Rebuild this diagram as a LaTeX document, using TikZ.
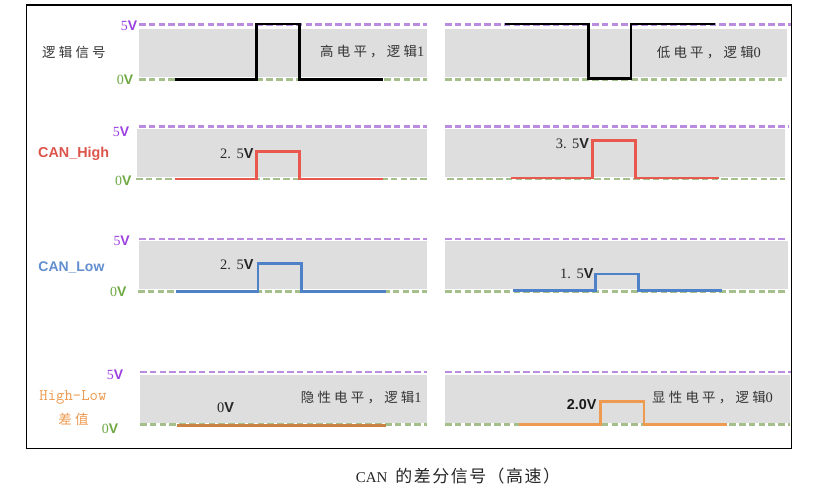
\documentclass[tikz,border=0pt]{standalone}
\usepackage{fontspec}
\setmainfont{Liberation Serif}
\setsansfont{Liberation Sans}
\setmonofont{Latin Modern Mono}
\newfontfamily\cjk[LetterSpace=24]{Noto Sans CJK SC}
\newfontfamily\cjkcap[LetterSpace=9]{Noto Sans CJK SC}
\definecolor{purpdash}{HTML}{B98CE0}
\definecolor{greendash}{HTML}{A4BE8C}
\definecolor{purptext}{HTML}{9B3FE0}
\definecolor{greentext}{HTML}{6EA843}
\definecolor{panel}{HTML}{DEDEDE}
\definecolor{redline}{HTML}{E8584F}
\definecolor{blueline}{HTML}{4F81C9}
\definecolor{orangeline}{HTML}{EE9A50}
\newcommand{\vv}[1]{#1{\sffamily\bfseries V}}
\newcommand{\cn}[2]{{\cjk #1}{\fontsize{14.5}{14}\selectfont #2}}
\newcommand{\fwc}{\symbol{"FF0C}}
\tikzset{
  x=1bp,y=-1bp,
  lbl/.style={anchor=west,inner sep=0pt,font=\fontsize{14}{14}\selectfont},
  cnlbl/.style={lbl,text=black!80,font=\fontsize{13.5}{14}\selectfont},
  hi/.style={lbl,text=purptext},
  lo/.style={lbl,text=greentext},
  val/.style={lbl,text=black!85,font=\fontsize{14.5}{14}\selectfont},
  panelbg/.style={fill=panel,draw=none},
  hiline/.style={purpdash,line width=2.6bp,dash pattern=on 6.5bp off 3.3bp},
  loline/.style={greendash,line width=2.6bp,dash pattern=on 6.5bp off 3.3bp},
  sig/.style={line width=2.6bp,line join=miter},
}
\begin{document}
\begin{tikzpicture}
\useasboundingbox (0,0) rectangle (837,491);
\fill[white] (0,0) rectangle (837,491);
% panels
\fill[panelbg] (138.7,28.7) rectangle (427.3,77);
\fill[panelbg] (445,28.7) rectangle (787.3,77.5);
\fill[panelbg] (136.7,129.3) rectangle (427.3,176.7);
\fill[panelbg] (445,129.3) rectangle (785,176.7);
\fill[panelbg] (139.3,240.7) rectangle (427.3,289.3);
\fill[panelbg] (445,240.7) rectangle (788.3,289.3);
\fill[panelbg] (140,375.3) rectangle (427.3,422.7);
\fill[panelbg] (445,375.3) rectangle (790,422.7);
% level lines
\draw[hiline] (139,24.7) -- (427.3,24.7);
\draw[hiline] (445,24.7) -- (791,24.7);
\draw[loline] (139,79.7) -- (427.3,79.7);
\draw[loline] (445,79.7) -- (782,79.7);
\draw[hiline] (139,126.7) -- (427.3,126.7);
\draw[hiline] (445,126.7) -- (789,126.7);
\draw[loline] (136,179) -- (427.3,179);
\draw[loline] (447,179) -- (785,179);
\draw[hiline] (139,239) -- (427.3,239);
\draw[hiline] (445,239) -- (788,239);
\draw[loline] (138,291.3) -- (427.3,291.3);
\draw[loline] (445,291.3) -- (788,291.3);
\draw[hiline] (140,372) -- (427.3,372);
\draw[hiline] (445,372) -- (791,372);
\draw[loline] (140,424.7) -- (427.3,424.7);
\draw[loline] (445,424.7) -- (790,424.7);
% signals
\draw[sig,black,line width=2.6bp] (175,79.7) -- (256.7,79.7) -- (256.7,24) -- (299.7,24) -- (299.7,79.7) -- (383.3,79.7);
\draw[sig,black,line width=2.6bp] (505,24) -- (588.3,24) -- (588.3,78.3) -- (631,78.3) -- (631,24) -- (715,24);
\draw[sig,redline] (175,179) -- (256.7,179) -- (256.7,151.3) -- (299.7,151.3) -- (299.7,179) -- (383.3,179);
\draw[sig,redline] (510.7,178) -- (592.7,178) -- (592.7,140.3) -- (635.7,140.3) -- (635.7,178) -- (719.3,178);
\draw[sig,blueline] (176.3,291.3) -- (258,291.3) -- (258,263.3) -- (301.3,263.3) -- (301.3,291.3) -- (385.7,291.3);
\draw[sig,blueline] (513.3,290.7) -- (595.3,290.7) -- (595.3,274) -- (638.3,274) -- (638.3,290.7) -- (721.7,290.7);
\draw[sig,orangeline!85!black,line width=3.2bp] (176.7,425.5) -- (386,425.5);
\draw[sig,orangeline] (519,424.7) -- (600.7,424.7) -- (600.7,401.7) -- (644,401.7) -- (644,424.7) -- (727.3,424.7);
% frame
\draw[black,line width=1.5bp] (26.5,5) rectangle (791.7,448.3);
% level labels
\node[hi] (h1) at (120.7,26) {\vv{5}};
\node[lo] (l1) at (116.7,80) {\vv{0}};
\node[hi] (h2) at (112.7,132) {\vv{5}};
\node[lo] (l2) at (115,181) {\vv{0}};
\node[hi] (h3) at (113.3,241) {\vv{5}};
\node[lo] (l3) at (110,292) {\vv{0}};
\node[hi] (h4) at (106.7,375) {\vv{5}};
\node[lo] (l4) at (101.7,429) {\vv{0}};
% row names
\node[cnlbl] (n1) at (42,52.3) {\cjk 逻辑信号};
\node[lbl,text=redline!95!black,font=\sffamily\bfseries\fontsize{14.4}{14}\selectfont] (n2) at (38,154) {CAN\_High};
\node[lbl,text=blueline!90!white,font=\sffamily\bfseries\fontsize{14}{14}\selectfont] (n3) at (38.3,267) {CAN\_Low};
\node[lbl,text=orangeline,font=\ttfamily\fontsize{16.3}{16}\selectfont] (n4) at (39.3,397.7) {High-Low};
\node[lbl,text=orangeline,font=\fontsize{13.5}{14}\selectfont] (n5) at (58.3,419) {\cjk 差值};
% annotations
\node[cnlbl] (t1) at (320,51.7) {\cn{高电平\fwc 逻辑}{1}};
\node[cnlbl] (t2) at (656.7,52.3) {\cn{低电平\fwc 逻辑}{0}};
\node[cnlbl] (t3) at (300.7,397.7) {\cn{隐性电平\fwc 逻辑}{1}};
\node[cnlbl] (t4) at (652,398) {\cn{显性电平\fwc 逻辑}{0}};
% values
\node[val] (v1) at (220,154) {\vv{2.\hspace{5.5bp}5}};
\node[val] (v2) at (555.7,144) {\vv{3.\hspace{5.5bp}5}};
\node[val] (v3) at (220,265) {\vv{2.\hspace{5.5bp}5}};
\node[val] (v4) at (560,274) {\vv{1.\hspace{5.5bp}5}};
\node[val] (v5) at (217,407.7) {\vv{0}};
\node[lbl,text=black!90,font=\sffamily\bfseries\fontsize{14.4}{14}\selectfont] (v6) at (566.7,404.3) {2.0V};
% caption
\node[lbl,text=black!85,font=\fontsize{15}{15}\selectfont] (cap) at (355.7,476) {CAN\hspace{8bp}{\cjkcap\fontsize{17}{17}\selectfont 的差分信号\symbol{"FF08}高速\symbol{"FF09}}};
\end{tikzpicture}
\end{document}
